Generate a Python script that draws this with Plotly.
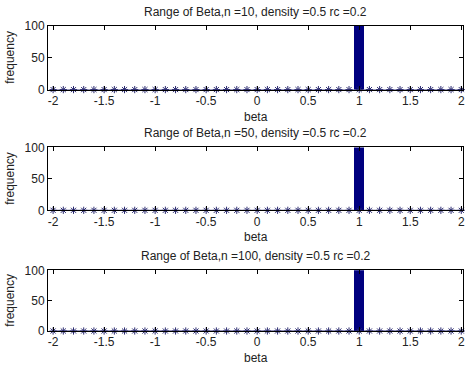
import plotly.graph_objects as go

bin_centers = [round(-2 + 0.1 * i, 1) for i in range(41)]
counts_n10 = [0] * 30 + [100] + [0] * 10
counts_n50 = [0] * 30 + [100] + [0] * 10
counts_n100 = [0] * 30 + [100] + [0] * 10
titles = ["Range of Beta,n =10, density =0.5 rc =0.2",
          "Range of Beta,n =50, density =0.5 rc =0.2",
          "Range of Beta,n =100, density =0.5 rc =0.2"]
x_ticks = [-2, -1.5, -1, -0.5, 0, 0.5, 1, 1.5, 2]
x_tick_text = ["-2", "-1.5", "-1", "-0.5", "0", "0.5", "1", "1.5", "2"]
y_ticks = [0, 50, 100]

series = [counts_n10, counts_n50, counts_n100]
domains = [[0.7915, 1.0], [0.3957, 0.602], [0.0, 0.199]]

fig = go.Figure()
font = dict(family="Liberation Sans, Arial, sans-serif", size=12, color="#222")
annotations = []
for i, counts in enumerate(series):
    xa = "x" if i == 0 else f"x{i+1}"
    ya = "y" if i == 0 else f"y{i+1}"
    fig.add_trace(go.Bar(x=bin_centers, y=counts, width=0.097,
                         marker=dict(color="#00007f", line=dict(width=0)),
                         xaxis=xa, yaxis=ya, showlegend=False))
    fig.add_trace(go.Scatter(x=bin_centers, y=[0] * len(bin_centers), mode="lines+markers",
                             line=dict(color="#2a2a70", width=1),
                             marker=dict(symbol="asterisk-open", size=6,
                                         line=dict(color="#6060d0", width=1)),
                             cliponaxis=False, xaxis=xa, yaxis=ya, showlegend=False))
    axn = "" if i == 0 else str(i + 1)
    fig.update_layout(**{
        f"xaxis{axn}": dict(domain=[0, 1], range=[-2.05, 2.017], anchor=ya,
                            tickmode="array", tickvals=x_ticks, ticktext=x_tick_text,
                            ticks="inside", ticklen=4, tickcolor="#000",
                            showline=True, linecolor="#000", linewidth=1, mirror="ticks",
                            showgrid=False, zeroline=False, tickfont=font, fixedrange=True),
        f"yaxis{axn}": dict(domain=domains[i], range=[0, 100], anchor=xa,
                            tickmode="array", tickvals=y_ticks,
                            ticks="inside", ticklen=4, tickcolor="#000",
                            showline=True, linecolor="#000", linewidth=1, mirror="ticks",
                            showgrid=False, zeroline=False, tickfont=font, fixedrange=True),
    })
    annotations.append(dict(text=titles[i], xref=f"{xa} domain", yref=f"{ya} domain",
                            x=0.5, y=1.0, yshift=14, xanchor="center", yanchor="middle",
                            showarrow=False, font=font))
    annotations.append(dict(text="beta", xref=f"{xa} domain", yref=f"{ya} domain",
                            x=0.5, y=0.0, yshift=-27, xanchor="center", yanchor="middle",
                            showarrow=False, font=font))
    annotations.append(dict(text="frequency", xref=f"{xa} domain", yref=f"{ya} domain",
                            x=0.0, xshift=-38, y=0.5, textangle=-90, xanchor="center",
                            yanchor="middle", showarrow=False, font=font))

fig.update_layout(width=474, height=365, margin=dict(l=48, r=9, t=26, b=34),
                  paper_bgcolor="white", plot_bgcolor="white",
                  annotations=annotations, bargap=0)
fig.write_html("out.html", config={"displayModeBar": False},
               post_script="document.body.style.margin='0';document.body.style.overflow='hidden';")
